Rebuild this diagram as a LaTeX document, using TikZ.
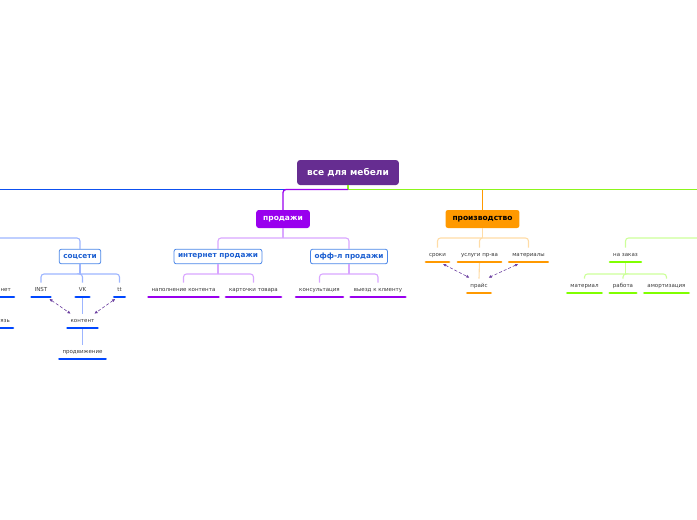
\documentclass[tikz,border=0pt]{standalone}
\usepackage{fontspec}
\setmainfont{DejaVu Sans}
\usetikzlibrary{arrows.meta}
\definecolor{rootpurple}{HTML}{662D91}
\definecolor{salesviolet}{HTML}{9900EE}
\definecolor{lightviolet}{HTML}{D9A6FF}
\definecolor{mainblue}{HTML}{0D50F0}
\definecolor{barblue}{HTML}{0047FF}
\definecolor{lightblue}{HTML}{9DB5FF}
\definecolor{subborder}{HTML}{4A86E8}
\definecolor{subtext}{HTML}{1C5FD1}
\definecolor{prodorange}{HTML}{FF9900}
\definecolor{lightorange}{HTML}{FFDCA6}
\definecolor{maingreen}{HTML}{8CF51C}
\definecolor{bargreen}{HTML}{80FF00}
\definecolor{lightgreen}{HTML}{CCFF99}
\definecolor{linkpurple}{HTML}{6B3FA0}
\definecolor{leaftext}{HTML}{3A3A3A}

\begin{document}
\begin{tikzpicture}[x=1pt,y=-1pt,
    rootbox/.style={fill=rootpurple,text=white,rounded corners=3pt,font=\fontsize{9}{10}\selectfont\bfseries,inner xsep=10pt,minimum height=25pt},
    mainbox/.style={rounded corners=2.5pt,font=\fontsize{7.5}{8}\selectfont\bfseries,inner xsep=7pt,minimum height=18pt},
    subbox/.style={draw=subborder,line width=0.8pt,fill=white,text=subtext,rounded corners=2pt,font=\fontsize{7.3}{8}\selectfont\bfseries,inner xsep=4pt,minimum height=14.5pt},
    leaf/.style={anchor=south,text=leaftext,font=\fontsize{5.5}{6}\selectfont,inner xsep=3pt,inner ysep=4.5pt,text height=4pt,text depth=1pt},
    bar/.style={line width=2.6pt,line cap=round},
    mainline/.style={line width=1.3pt},
    thinline/.style={line width=1.1pt,rounded corners=3pt},
    link/.style={linkpurple,densely dashed,line width=0.6pt,{Triangle[length=3pt,width=2.6pt]}-{Triangle[length=3pt,width=2.6pt]}}]

\useasboundingbox (0,0) rectangle (697,520);

% root and first level
\node[rootbox] (root) at (348,172.5) {все для мебели};
\coordinate (rootjoin) at (348,189.5);
\coordinate (leftend) at (0,189.5);
\coordinate (rightend) at (697,189.5);
\node[mainbox,fill=salesviolet,text=white] (sales) at (283,219) {продажи};
\node[mainbox,fill=prodorange,text=black] (prod) at (482.5,219) {производство};

\draw[mainblue,mainline] (rootjoin) -- (leftend);
\draw[prodorange,mainline] (prod.north |- rootjoin) -- (prod.north);
\draw[maingreen,mainline] (root.south) |- (rightend);
\draw[salesviolet,mainline,rounded corners=3pt] (rootjoin) -| (sales.north);

% sales
\node[subbox] (isales) at (218,256.5) {интернет продажи};
\node[subbox] (osales) at (349,256.5) {офф-л продажи};
\coordinate (salesfork) at (283,238);
\draw[lightviolet,thinline] (sales.south) -- (salesfork);
\draw[lightviolet,thinline] (salesfork) -| (isales.north);
\draw[lightviolet,thinline] (salesfork) -| (osales.north);

\node[leaf] (filling) at (183.5,297) {наполнение контента};
\node[leaf] (cards) at (253.5,297) {карточки товара};
\node[leaf] (consult) at (319.5,297) {консультация};
\node[leaf] (visit) at (378,297) {выезд к клиенту};
\coordinate (isfork) at (218,274);
\coordinate (osfork) at (349,274);
\draw[lightviolet,thinline] (isales.south) -- (isfork);
\draw[lightviolet,thinline] (isfork) -| (filling.north);
\draw[lightviolet,thinline] (isfork) -| (cards.north);
\draw[lightviolet,thinline] (osales.south) -- (osfork);
\draw[lightviolet,thinline] (osfork) -| (consult.north);
\draw[lightviolet,thinline] (osfork) -| (visit.north);
\foreach \n in {filling,cards,consult,visit}
  \draw[salesviolet,bar] (\n.south west) -- (\n.south east);

% social networks
\node[subbox] (social) at (80,256.5) {соцсети};
\coordinate (socialin) at (0,238);
\draw[lightblue,thinline] (socialin) -| (social.north);

\node[leaf,anchor=south east] (cutnet) at (14,297) {нет};
\node[leaf,anchor=south east] (cutlink) at (13,328) {язь};
\node[leaf] (inst) at (41,297) {INST};
\node[leaf] (vk) at (82.5,297) {VK};
\node[leaf] (tt) at (119.5,297) {tt};
\node[leaf] (kont) at (82.5,328) {контент};
\node[leaf] (promo) at (82.5,359) {продвижение};
\coordinate (socfork) at (80,274);
\draw[lightblue,thinline] (social.south) -- (socfork);
\draw[lightblue,thinline] (socfork) -| (inst.north);
\draw[lightblue,thinline] (socfork) -| (vk.north);
\draw[lightblue,thinline] (socfork) -| (tt.north);
\draw[lightblue,thinline] (vk.south) -- (kont.north);
\draw[lightblue,thinline] (kont.south) -- (promo.north);
\foreach \n in {cutnet,cutlink,inst,vk,tt,kont,promo}
  \draw[barblue,bar] (\n.south west) -- (\n.south east);
\draw[link] ([xshift=-1pt,yshift=-2pt]inst.south east) -- ([xshift=3pt]kont.north west);
\draw[link] ([xshift=1pt,yshift=-2pt]tt.south west) -- ([xshift=-3pt]kont.north east);

% production
\node[leaf] (terms) at (437.5,262) {сроки};
\node[leaf] (services) at (479.5,262) {услуги пр-ва};
\node[leaf] (materials) at (528.5,262) {материалы};
\node[leaf] (price) at (479,293) {прайс};
\coordinate (prodfork) at (482.5,238);
\draw[lightorange,thinline] (prod.south) -- (prodfork);
\draw[lightorange,thinline] (prodfork) -| (terms.north);
\draw[lightorange,thinline] (prodfork) -| (services.north);
\draw[lightorange,thinline] (prodfork) -| (materials.north);
\draw[lightorange,thinline] (services.south) -- (price.north);
\foreach \n in {terms,services,materials,price}
  \draw[prodorange,bar] (\n.south west) -- (\n.south east);
\draw[link] ([xshift=-6pt,yshift=-2pt]terms.south east) -- ([xshift=2pt,yshift=1pt]price.north west);
\draw[link] ([xshift=9pt,yshift=-2pt]materials.south west) -- ([xshift=-2pt,yshift=1pt]price.north east);

% to order
\node[leaf] (order) at (625.5,262) {на заказ};
\node[leaf] (material) at (584.5,293) {материал};
\node[leaf] (work) at (623,293) {работа};
\node[leaf] (amort) at (666.5,293) {амортизация};
\coordinate (greenin) at (697,238);
\coordinate (orderfork) at (625.5,274);
\draw[lightgreen,thinline] (greenin) -| (order.north);
\draw[lightgreen,thinline] (order.south) -- (orderfork);
\draw[lightgreen,thinline] (orderfork) -| (material.north);
\draw[lightgreen,thinline] (orderfork) -| (work.north);
\draw[lightgreen,thinline] (orderfork) -| (amort.north);
\foreach \n in {order,material,work,amort}
  \draw[bargreen,bar] (\n.south west) -- (\n.south east);

\end{tikzpicture}
\end{document}
